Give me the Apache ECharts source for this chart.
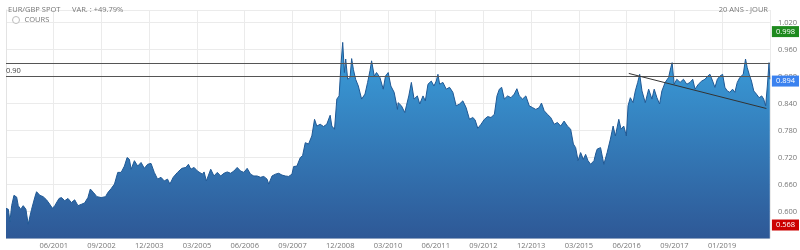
<!DOCTYPE html>
<html>
<head>
<meta charset="utf-8">
<script src="https://cdn.jsdelivr.net/npm/echarts@6/dist/echarts.min.js"></script>
<style>html,body{margin:0;padding:0;background:#fff}#c{width:800px;height:250px}</style>
</head>
<body>
<div id="c"></div>
<script>
// months elapsed since March 2000
var months = [0,0.72,1.25,1.78,2.50,3.35,3.85,4.60,5.41,6.25,6.97,8.04,9.07,9.60,10.63,11.66,12.73,13.76,14.60,15.32,16.67,17.42,18.45,19.48,20.54,21.58,22.61,23.67,24.70,25.74,26.49,27.52,28.55,29.93,31.27,31.99,33.05,34.08,35.12,36.18,37.21,38.05,38.77,39.31,40.34,41.37,42.43,43.47,44.50,45.56,46.59,47.62,48.69,49.72,50.75,51.50,52.53,53.88,55.25,56.51,57.32,58.07,59.10,60.13,
60.66,61.70,62.23,62.95,64.32,65.35,66.39,67.45,68.48,69.51,70.58,71.61,72.64,73.70,74.74,75.77,76.83,77.86,78.90,79.96,80.99,82.02,82.55,83.58,84.64,85.68,86.71,87.77,88.81,89.84,90.37,91.40,92.46,93.18,94.03,95.06,96.09,96.94,97.66,98.72,99.75,100.78,101.85,102.37,103.22,103.94,104.66,105.29,105.79,106.32,106.73,107.35,108.10,108.60,109.14,109.85,110.70,111.73,112.79,113.61,114.36,114.86,115.70,116.42,117.48,118.52,119.23,120.08,120.92,121.95,122.99,
123.20,124.24,125.30,125.80,126.55,127.36,128.21,129.24,129.99,131.02,131.74,132.58,133.62,134.46,135.18,135.71,136.24,137.28,138.31,139.37,140.40,141.43,142.50,143.53,144.56,145.62,146.66,147.37,148.22,149.25,150.31,151.34,152.38,153.44,154.26,155.01,155.73,156.57,157.60,158.64,159.70,160.52,161.27,162.30,163.33,164.40,165.43,166.46,167.53,168.24,169.09,170.12,171.15,172.22,173.25,174.28,175.35,176.38,177.41,178.26,178.98,179.73,180.54,181.39,182.11,182.86,183.68,184.74,185.37,
185.77,186.80,187.84,188.87,189.90,190.75,191.46,192.53,193.25,194.09,194.91,195.44,196.16,197.00,197.72,198.47,199.10,199.82,200.85,201.91,202.94,203.66,204.51,205.35,206.07,207.10,208.17,208.88,209.29,209.92,210.76,211.79,212.85,213.89,214.92,215.76,216.48,217.54,218.58,219.61,220.46,221.18,222.02,222.74,223.49,224.30,225.15,225.87,226.62,227.43,228.28,229.00,229.75,230.56,231.63,232.35,232.88,233.50,234.22,234.94,235.78,236.62,237.44,238.05,238.67,239.20,239.73,239.98];
var rates = [0.607,0.605,0.578,0.613,0.636,0.632,0.613,0.605,0.613,0.605,0.572,0.605,0.632,0.644,0.636,0.633,0.626,0.616,0.607,0.613,0.629,0.631,0.624,0.629,0.620,0.626,0.613,0.616,0.619,0.631,0.650,0.642,0.633,0.631,0.633,0.642,0.651,0.661,0.687,0.687,0.701,0.720,0.716,0.694,0.713,0.701,0.709,0.696,0.705,0.707,0.687,0.672,0.676,0.668,0.672,0.661,0.676,0.687,0.696,0.698,0.705,0.694,0.698,0.690,
0.687,0.683,0.688,0.668,0.694,0.679,0.687,0.679,0.685,0.688,0.685,0.690,0.698,0.690,0.687,0.696,0.683,0.679,0.679,0.676,0.678,0.672,0.661,0.679,0.683,0.685,0.681,0.679,0.678,0.683,0.700,0.701,0.720,0.724,0.753,0.750,0.768,0.805,0.790,0.794,0.789,0.794,0.814,0.790,0.783,0.850,0.857,0.931,0.976,0.909,0.939,0.894,0.898,0.940,0.916,0.894,0.879,0.850,0.861,0.887,0.913,0.935,0.901,0.909,0.898,0.872,0.901,0.909,0.879,0.865,0.827,
0.842,0.835,0.820,0.835,0.857,0.887,0.850,0.857,0.839,0.857,0.846,0.883,0.890,0.879,0.890,0.905,0.883,0.887,0.872,0.876,0.865,0.835,0.839,0.846,0.831,0.805,0.809,0.804,0.785,0.794,0.805,0.811,0.809,0.816,0.857,0.872,0.876,0.850,0.857,0.853,0.861,0.873,0.857,0.850,0.857,0.835,0.831,0.827,0.831,0.841,0.824,0.816,0.809,0.794,0.798,0.790,0.801,0.790,0.783,0.750,0.742,0.713,0.731,0.716,0.727,0.713,0.705,0.713,0.731,
0.739,0.742,0.705,0.731,0.761,0.790,0.768,0.805,0.783,0.790,0.768,0.835,0.853,0.842,0.868,0.887,0.905,0.868,0.842,0.872,0.850,0.872,0.853,0.839,0.868,0.887,0.898,0.920,0.931,0.883,0.894,0.887,0.894,0.883,0.887,0.894,0.872,0.883,0.890,0.894,0.901,0.905,0.890,0.876,0.894,0.901,0.905,0.876,0.868,0.865,0.872,0.865,0.887,0.898,0.905,0.939,0.920,0.905,0.890,0.868,0.861,0.853,0.857,0.850,0.835,0.879,0.931,0.894];
var tickLabels = ['06/2001','09/2002','12/2003','03/2005','06/2006','09/2007','12/2008','03/2010','06/2011','09/2012','12/2013','03/2015','06/2016','09/2017','01/2019'];
var highValue = 0.998, lowValue = 0.568, lastValue = 0.894;
var levels = [0.90, 0.93];
var trendLine = [[195.67, 0.907], [238.9, 0.829]];

var seriesData = months.map(function (m, i) { return [m, rates[i]]; });
var font = 'Open Sans';
function valueTag(v, bg) {
  return {
    yAxis: v,
    lineStyle: {color: 'rgba(0,0,0,0)', width: 1, type: 'solid'},
    label: {show: true, position: 'end', distance: 2, formatter: v.toFixed(3), color: '#fff',
      backgroundColor: bg, padding: [2, 4, 1, 4], fontSize: 7.5, fontFamily: font}
  };
}
var chart = echarts.init(document.getElementById('c'), null, {renderer: 'canvas'});
chart.setOption({
  animation: false,
  textStyle: {fontFamily: font},
  title: [
    {text: 'EUR/GBP SPOT', left: 3, top: 1, textStyle: {fontSize: 7.5, fontWeight: 'normal', color: '#777', fontFamily: font}},
    {text: 'VAR. : +49.79%', left: 67, top: 1, textStyle: {fontSize: 7.5, fontWeight: 'normal', color: '#777', fontFamily: font}},
    {text: '20 ANS - JOUR', right: 27, top: 1, textStyle: {fontSize: 7.5, fontWeight: 'normal', color: '#777', fontFamily: font}}
  ],
  legend: {
    left: 7, top: 11, itemWidth: 7, itemHeight: 7, itemGap: 4,
    icon: 'circle',
    itemStyle: {color: '#fff', borderColor: '#bbb', borderWidth: 1},
    textStyle: {fontSize: 7.5, color: '#777', fontFamily: font},
    data: ['COURS']
  },
  grid: {left: 6, right: 26.5, top: 10, bottom: 11.5, containLabel: false},
  xAxis: {
    type: 'value', min: 0, max: 240, interval: 15,
    axisLine: {show: false}, axisTick: {show: false},
    splitLine: {show: true, lineStyle: {color: '#ebebeb', width: 1}},
    axisLabel: {
      fontSize: 7.5, color: '#777', margin: 3, fontFamily: font,
      showMinLabel: false, showMaxLabel: false,
      formatter: function (v) { var i = Math.round(v / 15) - 1; return (i >= 0 && i < tickLabels.length) ? tickLabels[i] : ''; }
    }
  },
  yAxis: {
    type: 'value', position: 'right', min: 0.54, max: 1.048, interval: 0.06,
    axisLine: {show: true, lineStyle: {color: '#e3e3e3'}}, axisTick: {show: false},
    splitLine: {show: true, lineStyle: {color: '#ebebeb', width: 1}},
    axisLabel: {
      fontSize: 7.5, color: '#777', margin: 8, fontFamily: font,
      showMinLabel: false, showMaxLabel: false,
      formatter: function (v) { return v.toFixed(3); }
    }
  },
  series: [{
    name: 'COURS', type: 'line', data: seriesData, showSymbol: false, symbol: 'none',
    lineStyle: {color: '#1f5894', width: 1},
    itemStyle: {color: '#2f7fc0'},
    areaStyle: {
      opacity: 1,
      color: new echarts.graphic.LinearGradient(0, 0, 0, 1, [
        {offset: 0, color: '#3aa0dd'},
        {offset: 1, color: '#2e5896'}
      ])
    },
    markLine: {
      silent: true, symbol: 'none', animation: false, z: 10,
      data: [
        {yAxis: levels[0], lineStyle: {color: '#555', width: 1, type: 'solid'},
          label: {show: true, position: 'insideStartTop', formatter: '0.90', color: '#444', fontSize: 7.5, distance: [0, 2], fontFamily: font}},
        {yAxis: levels[1], lineStyle: {color: '#555', width: 1, type: 'solid'}, label: {show: false}},
        [{coord: trendLine[0], lineStyle: {color: '#333', width: 1, type: 'solid'}, label: {show: false}}, {coord: trendLine[1]}],
        valueTag(highValue, '#1e8a1e'),
        valueTag(lowValue, '#cc0000'),
        valueTag(lastValue, '#3b82ef')
      ]
    }
  }]
});
</script>
</body>
</html>
